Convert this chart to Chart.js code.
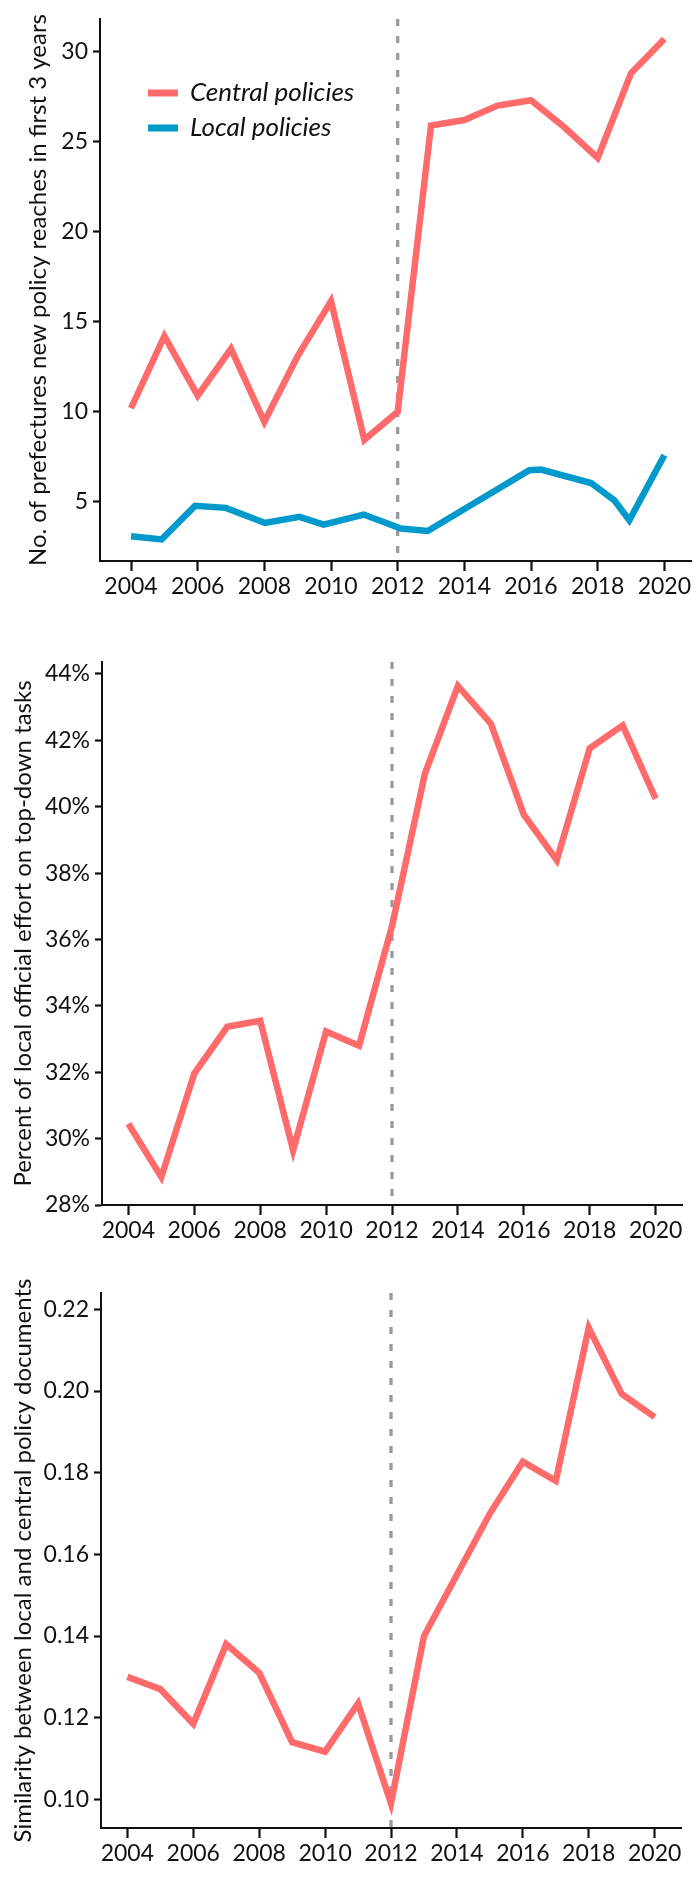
<!DOCTYPE html>
<html>
<head>
<meta charset="utf-8">
<script src="https://cdn.jsdelivr.net/npm/chart.js@4.4.1/dist/chart.umd.min.js"></script>
<style>
  html, body { margin: 0; padding: 0; background: #fff; }
  .panel { position: absolute; left: 0; width: 700px; }
</style>
</head>
<body>
<div class="panel" style="top:0;height:615px"><canvas id="reach"></canvas></div>
<div class="panel" style="top:615px;height:635px"><canvas id="effort"></canvas></div>
<div class="panel" style="top:1250px;height:635px"><canvas id="similarity"></canvas></div>
<script>
const years = [2004, 2005, 2006, 2007, 2008, 2009, 2010, 2011, 2012, 2013, 2014, 2015, 2016, 2017, 2018, 2019, 2020];
const xTicks = [2004, 2006, 2008, 2010, 2012, 2014, 2016, 2018, 2020];
const policyShift = 2012;

// panel 1: prefectures reached in first 3 years
const centralReach = [10.2, 14.2, 10.9, 13.5, 9.45, 13.1, 16.15, 8.45, 10.0, 25.9, 26.2, 27.0, 27.3, 25.8, 24.1, 28.8, 30.7];
const localReachYears = [2004, 2004.92, 2005.92, 2006.85, 2008.02, 2009.05, 2009.78, 2010.98, 2012.1, 2012.9, 2015.95, 2016.3, 2017.8, 2018.5, 2018.95, 2020];
const localReach = [3.09, 2.92, 4.78, 4.67, 3.83, 4.17, 3.74, 4.3, 3.52, 3.39, 6.76, 6.8, 6.05, 5.09, 3.98, 7.59];
const reachTicks = [5, 10, 15, 20, 25, 30];

// panel 2: share of effort on top-down tasks (%)
const topDownShare = [30.45, 28.84, 31.96, 33.37, 33.55, 29.65, 33.23, 32.8, 36.4, 41.0, 43.64, 42.5, 39.76, 38.39, 41.76, 42.45, 40.24];
const shareTicks = [28, 30, 32, 34, 36, 38, 40, 42, 44];

// panel 3: similarity of local vs central documents
const docSimilarity = [0.13, 0.127, 0.1185, 0.138, 0.131, 0.114, 0.1117, 0.1235, 0.099, 0.14, 0.155, 0.17, 0.1827, 0.178, 0.2155, 0.1993, 0.1936];
const simTicks = [0.10, 0.12, 0.14, 0.16, 0.18, 0.20, 0.22];

const RED = "#FF6B6B";
const BLUE = "#0099CC";
const INK = "#111111";
const FONT = "Lato";

function pts(xs, ys) {
  return xs.map((x, i) => ({ x, y: ys[i] }));
}

function line(label, data, color) {
  return {
    label, data,
    borderColor: color, backgroundColor: color,
    borderWidth: 6.5, pointRadius: 0, tension: 0, fill: false,
    borderJoinStyle: "miter", borderCapStyle: "butt"
  };
}

// dotted vertical marker at 2012, under the data lines
const shiftLine = {
  id: "shiftLine",
  beforeDatasetsDraw(chart) {
    const { ctx, chartArea: a, scales: { x } } = chart;
    const px = x.getPixelForValue(policyShift);
    ctx.save();
    ctx.strokeStyle = "#9a9a9a";
    ctx.lineWidth = 3.3;
    ctx.setLineDash([7, 10]);
    ctx.beginPath();
    ctx.moveTo(px, a.top);
    ctx.lineTo(px, a.bottom);
    ctx.stroke();
    ctx.restore();
  }
};

const inlineLegend = {
  id: "inlineLegend",
  afterDraw(chart) {
    const { ctx } = chart;
    ctx.save();
    ctx.font = `italic 26px ${FONT}`;
    ctx.textBaseline = "middle";
    chart.data.datasets.forEach((ds, i) => {
      const y = 93 + i * 35;
      ctx.strokeStyle = ds.borderColor;
      ctx.lineWidth = 7;
      ctx.beginPath();
      ctx.moveTo(148, y);
      ctx.lineTo(178, y);
      ctx.stroke();
      ctx.fillStyle = INK;
      ctx.fillText(ds.label, 190, y);
    });
    ctx.restore();
  }
};

function xScale(min, max, height) {
  return {
    type: "linear", min, max,
    afterBuildTicks: s => { s.ticks = xTicks.map(v => ({ value: v })); },
    afterFit: s => { s.height = height; },
    grid: { display: true, drawOnChartArea: false, tickLength: 10, tickWidth: 2.2, tickColor: INK },
    border: { display: true, color: INK, width: 2 },
    ticks: { color: INK, font: { family: FONT, size: 23 }, padding: 2, maxRotation: 0, autoSkip: false, callback: v => String(v) }
  };
}

function yScale(min, max, ticks, fmt, width, title) {
  return {
    type: "linear", min, max,
    afterBuildTicks: s => { s.ticks = ticks.map(v => ({ value: v })); },
    afterFit: s => { s.width = width; },
    grid: { display: true, drawOnChartArea: false, tickLength: 7, tickWidth: 2.2, tickColor: INK },
    border: { display: true, color: INK, width: 2 },
    ticks: { color: INK, font: { family: FONT, size: 23 }, padding: 5, callback: fmt },
    title: { display: true, text: title, color: INK, font: { family: FONT, size: 24 }, padding: { top: 3, bottom: 0 } }
  };
}

function mkChart(id, datasets, scales, padding, extra) {
  new Chart(document.getElementById(id).getContext("2d"), {
    type: "line",
    data: { datasets },
    options: {
      responsive: true,
      maintainAspectRatio: false,
      animation: false,
      layout: { padding },
      plugins: { legend: { display: false }, tooltip: { enabled: false } },
      scales
    },
    plugins: [shiftLine].concat(extra || [])
  });
}

mkChart("reach",
  [line("Central policies", pts(years, centralReach), RED),
   line("Local policies", pts(localReachYears, localReach), BLUE)],
  {
    x: xScale(2003.07, 2020.8, 54),
    y: yScale(1.72, 31.81, reachTicks, v => String(v), 79, "No. of prefectures new policy reaches in first 3 years")
  },
  { left: 21, right: 9, top: 19, bottom: 0 },
  [inlineLegend]);

mkChart("effort",
  [line("Top-down share", pts(years, topDownShare), RED)],
  {
    x: xScale(2003.2, 2020.8, 45),
    y: yScale(28, 44.36, shareTicks, v => v + "%", 96, "Percent of local official effort on top-down tasks")
  },
  { left: 6, right: 18, top: 47, bottom: 0 });

mkChart("similarity",
  [line("Similarity", pts(years, docSimilarity), RED)],
  {
    x: xScale(2003.2, 2020.8, 57),
    y: yScale(0.093, 0.224, simTicks, v => v.toFixed(2), 95, "Similarity between local and central policy documents")
  },
  { left: 6, right: 19, top: 43, bottom: 0 });
</script>
</body>
</html>
